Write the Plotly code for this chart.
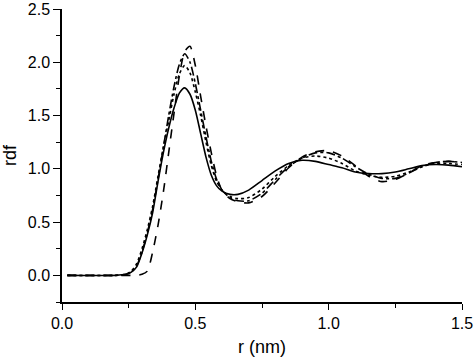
import plotly.graph_objects as go

# r grid (nm)
r = [0.02, 0.20, 0.24, 0.26, 0.28, 0.30, 0.32, 0.34, 0.36, 0.38, 0.40, 0.42, 0.44, 0.46,
     0.48, 0.50, 0.52, 0.54, 0.56, 0.58, 0.60, 0.63, 0.66, 0.70, 0.75, 0.80, 0.85, 0.90,
     0.95, 1.00, 1.05, 1.10, 1.15, 1.20, 1.25, 1.30, 1.35, 1.40, 1.45, 1.50]

rdf_solid = [0.0, 0.0, 0.01, 0.03, 0.08, 0.21, 0.38, 0.59, 0.88, 1.15, 1.38, 1.57, 1.71, 1.76,
             1.70, 1.55, 1.33, 1.11, 0.94, 0.84, 0.79, 0.76, 0.76, 0.80, 0.89, 0.98, 1.05, 1.08,
             1.07, 1.04, 1.01, 0.97, 0.955, 0.955, 0.97, 1.00, 1.03, 1.04, 1.035, 1.02]

rdf_dot = [0.0, 0.0, 0.01, 0.04, 0.11, 0.25, 0.43, 0.65, 0.93, 1.20, 1.45, 1.70, 1.89, 1.97,
           1.90, 1.72, 1.50, 1.25, 1.03, 0.88, 0.80, 0.74, 0.72, 0.73, 0.81, 0.93, 1.03, 1.10,
           1.12, 1.10, 1.05, 0.98, 0.94, 0.92, 0.93, 0.97, 1.02, 1.05, 1.05, 1.04]

rdf_dashdot = [0.0, 0.0, 0.01, 0.03, 0.09, 0.22, 0.40, 0.62, 0.90, 1.20, 1.50, 1.77, 1.98, 2.08,
               2.00, 1.80, 1.55, 1.30, 1.07, 0.90, 0.80, 0.73, 0.70, 0.70, 0.77, 0.90, 1.02, 1.10,
               1.15, 1.15, 1.10, 1.02, 0.95, 0.91, 0.91, 0.96, 1.02, 1.06, 1.07, 1.06]

rdf_dash = [0.0, 0.0, 0.0, 0.0, 0.0, 0.01, 0.04, 0.22, 0.47, 0.78, 1.15, 1.52, 1.87, 2.10,
            2.15, 1.97, 1.68, 1.40, 1.15, 0.93, 0.80, 0.72, 0.69, 0.68, 0.74, 0.87, 1.01, 1.11,
            1.16, 1.17, 1.12, 1.03, 0.93, 0.88, 0.90, 0.96, 1.03, 1.06, 1.07, 1.06]

x_ticks = [0.0, 0.5, 1.0, 1.5]
y_ticks = [0.0, 0.5, 1.0, 1.5, 2.0, 2.5]

fig = go.Figure()
for ys, dash in [(rdf_solid, "solid"), (rdf_dot, "dot"), (rdf_dashdot, "dashdot"), (rdf_dash, "dash")]:
    fig.add_trace(go.Scatter(x=r, y=ys, mode="lines",
                             line=dict(color="black", width=1.6, dash=dash,
                                       shape="spline", smoothing=0.7),
                             showlegend=False, hoverinfo="skip"))

font = dict(family="Liberation Sans, Arial, sans-serif", color="black")
tick_common = dict(tickwidth=1.3, tickcolor="black", showline=True, linecolor="black",
                   linewidth=1.5, showgrid=False, zeroline=False, automargin=False)

fig.update_layout(
    width=474, height=359,
    margin=dict(l=62, r=12, t=9, b=57),
    paper_bgcolor="white", plot_bgcolor="white",
    font=dict(size=16, **font),
    xaxis=dict(range=[0, 1.5], tickvals=x_ticks, ticktext=["0.0", "0.5", "1.0", "1.5"],
               ticks="outside", ticklen=6,
               minor=dict(ticks="outside", ticklen=4, tickwidth=1.3, tickcolor="black", dtick=0.25, showgrid=False),
               title=dict(text="r (nm)", font=dict(size=18), standoff=9),
               tickfont=dict(size=16), **tick_common),
    yaxis=dict(range=[-0.25, 2.5], tickvals=y_ticks, ticktext=["0.0", "0.5", "1.0", "1.5", "2.0", "2.5"],
               ticks="outside", ticklen=7,
               minor=dict(ticks="outside", ticklen=4, tickwidth=1.3, tickcolor="black", dtick=0.25, showgrid=False),
               title=dict(text="rdf", font=dict(size=18), standoff=10),
               tickfont=dict(size=16), **tick_common),
    xaxis2=dict(range=[0, 1.5], overlaying="x", side="top", anchor="y",
                tickvals=x_ticks, showticklabels=False,
                ticks="inside", ticklen=6,
                minor=dict(ticks="inside", ticklen=4, tickwidth=1.3, tickcolor="black", dtick=0.25, showgrid=False),
                **tick_common),
    yaxis2=dict(range=[-0.25, 2.5], overlaying="y", side="right", anchor="x",
                tickvals=y_ticks, showticklabels=False,
                ticks="outside", ticklen=6,
                minor=dict(ticks="outside", ticklen=4, tickwidth=1.3, tickcolor="black", dtick=0.25, showgrid=False),
                **tick_common),
)

fig.write_html("out.html", config={"displayModeBar": False},
               post_script="document.body.style.margin='0px';document.body.style.padding='0px';")
